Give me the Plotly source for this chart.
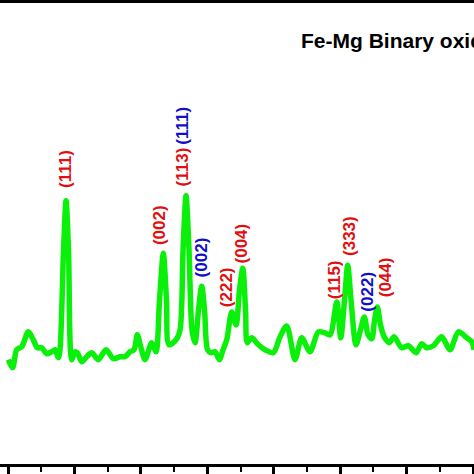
import plotly.graph_objects as go

# XRD pattern (2-theta in degrees, intensity in arbitrary units)
two_theta = [20.05, 20.71, 21.31, 22.07, 23.06, 23.81, 24.42, 25.08, 25.83, 26.58,
             27.08, 27.58, 27.83, 28.36, 28.74, 29.11, 29.59, 30.09, 30.44, 31.10,
             31.85, 32.60, 33.60, 34.76, 35.86, 36.86, 37.62, 38.37, 38.97, 39.47,
             39.98, 40.63, 41.64, 42.28, 42.81, 43.38, 43.86, 44.24, 45.30, 45.90,
             46.35, 46.80, 47.25, 47.70, 48.16, 48.68, 49.16, 49.59, 50.04, 50.56,
             51.17, 51.81, 52.37, 52.93, 53.68, 54.33, 54.85, 55.34, 55.76, 56.03,
             56.69, 57.69, 58.69, 59.94, 60.95, 61.96, 63.21, 64.22, 65.47, 66.72,
             67.73, 68.48, 69.49, 70.09, 70.66, 71.14, 71.64, 72.39, 73.07, 73.64,
             74.20, 74.76, 75.18, 75.60, 76.08, 76.50, 76.91, 77.41, 78.11, 79.27,
             80.27, 81.43, 82.28, 83.04, 84.03, 85.29, 86.54, 87.79, 89.06, 89.81, 90.16]
intensity = [105, 97, 115, 118, 133, 125, 117, 117, 111, 113,
             115, 107, 115, 215, 265, 215, 105, 113, 112, 103,
             108, 112, 105, 115, 106, 108, 108, 113, 115, 130,
             118, 105, 122, 113, 165, 212, 165, 120, 125, 135,
             215, 270, 215, 135, 122, 155, 179, 155, 115, 112,
             113, 105, 115, 125, 153, 140, 175, 197, 155, 122,
             127, 120, 115, 112, 128, 139, 105, 127, 113, 133,
             132, 130, 163, 127, 165, 200, 165, 120, 135, 148,
             130, 126, 145, 158, 140, 130, 125, 122, 128, 117,
             119, 112, 121, 117, 119, 128, 115, 133, 127, 123, 115]

# Peak labels
label_text = ["(111)", "(002)", "(113)", "(111)", "(002)", "(222)", "(004)",
              "(115)", "(333)", "(022)", "(044)"]
label_phase = ["r", "r", "r", "b", "b", "r", "r", "r", "r", "b", "r"]
label_x = [28.74, 42.81, 46.27, 46.27, 49.06, 52.82, 55.08, 69.08, 71.41, 74.12, 76.76]
label_y = [297, 240, 299, 340, 208, 178, 222, 185, 229, 173, 188]

title_text = "Fe-Mg Binary oxide"

phase_color = {"r": "#e01010", "b": "#1010c8"}

fig = go.Figure()
fig.add_trace(go.Scatter(
    x=two_theta, y=intensity, mode="lines",
    line=dict(color="rgb(10,240,10)", width=5.5, shape="spline", smoothing=0.8),
    showlegend=False, hoverinfo="skip"))

for t, p, x, y in zip(label_text, label_phase, label_x, label_y):
    fig.add_annotation(x=x, y=y, xref="x", yref="y", text="<b>" + t + "</b>", showarrow=False,
                       textangle=-90, xanchor="center", yanchor="middle",
                       font=dict(family="Arial, Liberation Sans", size=17,
                                 color=phase_color[p]))

fig.add_annotation(x=299 / 474, y=1 - 38 / 464, xref="paper", yref="paper",
                   xanchor="left", yanchor="middle",
                   text="<b>" + title_text + "</b>", showarrow=False,
                   font=dict(family="Arial, Liberation Sans", size=21, color="black"))

fig.update_layout(
    width=474, height=474,
    margin=dict(l=0, r=0, t=1, b=9),
    paper_bgcolor="white", plot_bgcolor="white",
    xaxis=dict(range=[18.796, 90.15], showgrid=False, zeroline=False,
               showline=True, linecolor="black", linewidth=3, mirror=True,
               ticks="outside", tick0=20, dtick=10, ticklen=10, tickwidth=3,
               tickcolor="black", showticklabels=False,
               minor=dict(ticks="outside", dtick=5, tick0=20, ticklen=5,
                          tickwidth=2, tickcolor="black", showgrid=False)),
    yaxis=dict(range=[0, 464], visible=False),
)

fig.write_html("out.html", config={"displayModeBar": False, "staticPlot": True},
               post_script="document.body.style.margin='0';document.body.style.overflow='hidden';")
